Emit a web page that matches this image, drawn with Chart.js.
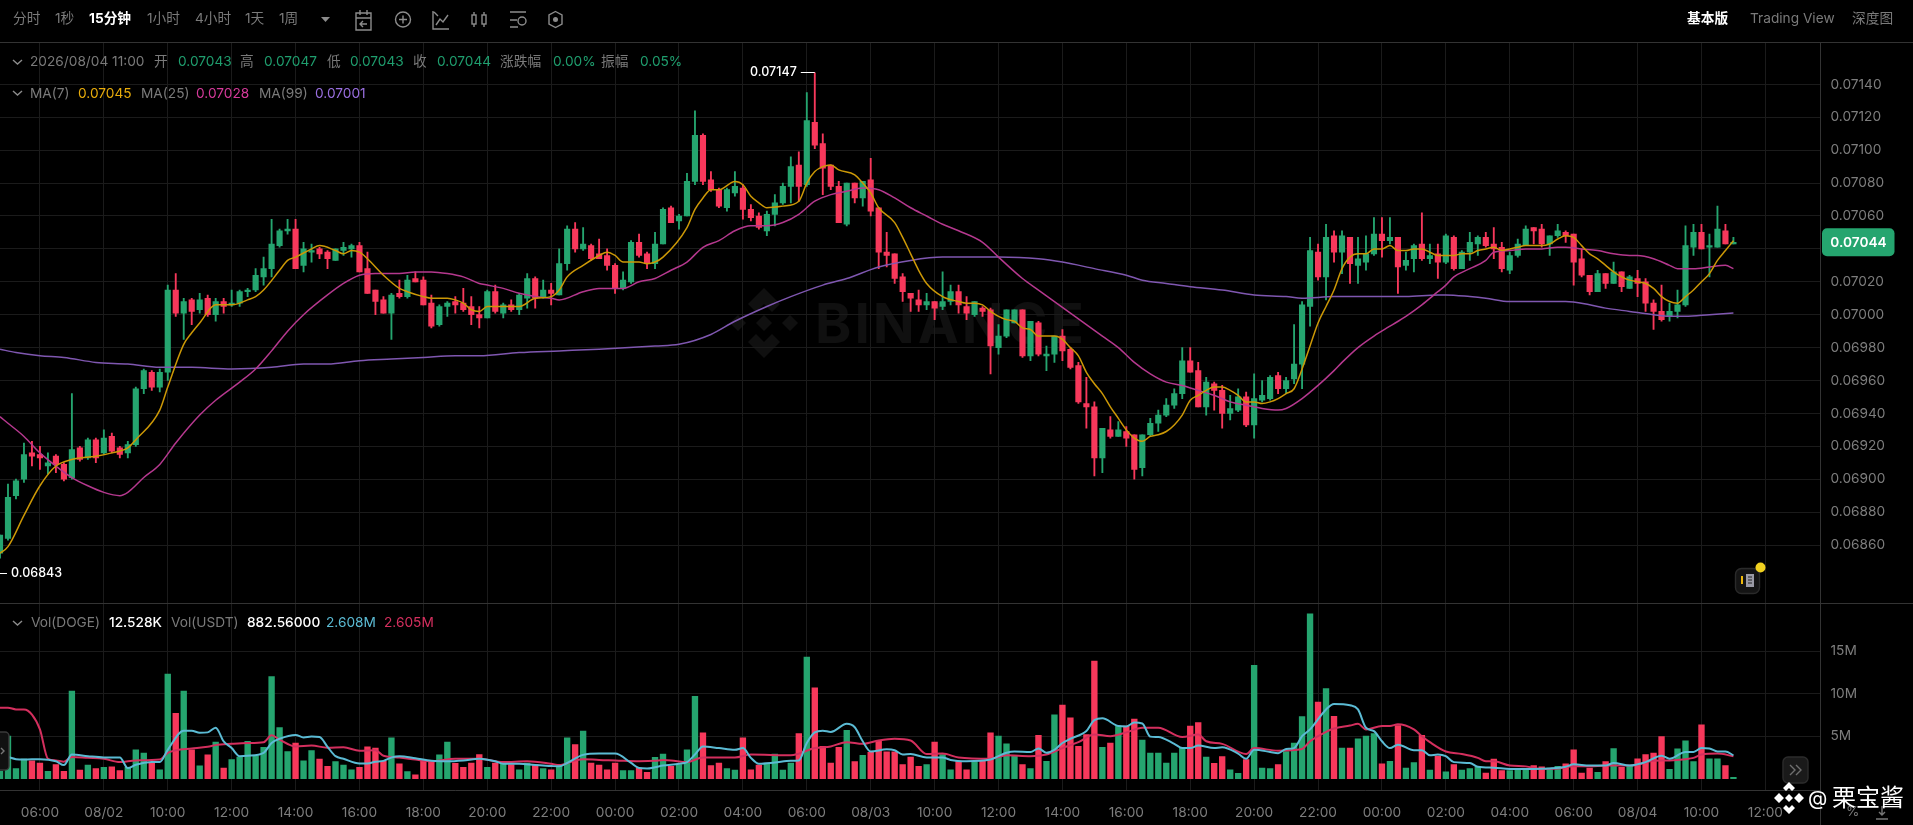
<!DOCTYPE html>
<html lang="zh"><head><meta charset="utf-8"><title>DOGE/USDT 15分钟</title>
<script src="https://cdn.jsdelivr.net/npm/chart.js@4"></script>
<style>
html,body{margin:0;padding:0;background:#000;overflow:hidden}
#wrap{position:relative;width:1913px;height:825px;background:#000;font-family:Inter,"Noto Sans CJK SC",sans-serif;font-size:13.7px;color:#7a7a7a}
#wrap span.t{position:absolute;white-space:nowrap;transform:translateY(-50%);line-height:1}
canvas{position:absolute;left:0;top:0}
.rule{position:absolute;background:#333;z-index:3}
.ic{position:absolute;z-index:3;overflow:visible}
.wm{position:absolute;color:#101010;font-weight:700;font-size:55px;left:815px;top:290px;letter-spacing:3px;line-height:66px}
</style></head><body><div id="wrap">
<svg class="ic" style="left:730px;top:288px;z-index:0" width="68" height="70" viewBox="0 0 68 70"><g fill="#101010"><path d="M34 0 50 16 42 24 34 16 26 24 18 16Z"/><path d="M8 27 16 35 8 43 0 35Z"/><path d="M60 27 68 35 60 43 52 35Z"/><path d="M34 27 42 35 34 43 26 35Z"/><path d="M34 70 18 54 26 46 34 54 42 46 50 54Z"/></g></svg>
<div class="wm">BINANCE</div>
<canvas id="c" width="1913" height="825"></canvas>
<div class="rule" style="left:0;top:42px;width:1913px;height:1px"></div>
<div class="rule" style="left:0;top:603px;width:1913px;height:1px"></div>
<div class="rule" style="left:1820px;top:42px;width:1px;height:783px"></div>
<div id="txt"></div>
<svg class="ic" style="left:0;top:0" width="1913" height="825" fill="none" stroke="#8c8c8c" stroke-width="1.4">
<path d="M321 17h9l-4.500 5z" fill="#8c8c8c" stroke="none"/>
<path d="M356 13h15v17h-15zM356 18h15M360 10v5M367 10v5M367 24h-7m3-3-3 3 3 3"/>
<circle cx="403" cy="19.5" r="7.5"/><path d="M403 15.5v8M399 19.5h8"/>
<path d="M433 11v18h16M436 25l4-6 3 3 5-7M434 12l4 4"/>
<path d="M474 12v15M484 12v15" /><rect x="472" y="15" width="4" height="9" fill="#000"/><rect x="482" y="15" width="4" height="9" fill="#000"/>
<path d="M510 12h16M510 27h8M510 20h7"/><circle cx="522" cy="21" r="4"/>
<path d="M555.5 11.5l6.500 3.500v9l-6.500 3.500-6.500-3.500v-9z"/><circle cx="555.5" cy="19.5" r="1.8" fill="#8c8c8c"/>
<path d="M13 60l4.500 4 4.500-4M13 91l4.500 4 4.500-4M13 621l4.500 4 4.500-4"/>
<rect x="-6" y="732" width="15" height="38" rx="4" stroke="#3a3a3a" fill="#111"/><path d="M1 748l3 3-3 3" stroke="#777"/>
<rect x="1783" y="757" width="25" height="26" rx="5" stroke="#2c2c2c" fill="#1a1a1a"/><path d="M1790 765l5 5-5 5M1796 765l5 5-5 5" stroke="#6f6f6f"/>
<rect x="1735.500" y="568.500" width="24" height="25" rx="6" stroke="#2a2a2a" fill="#141414"/><rect x="1746" y="574" width="8" height="13" fill="#9a9aa5" stroke="none"/><path d="M1748 577h4M1748 580h4M1748 583h4" stroke="#222" stroke-width="1"/><path d="M1742 576v8" stroke="#f0b90b" stroke-width="2"/>
<circle cx="1760.500" cy="567.500" r="5" fill="#f0d020" stroke="none"/>
<g fill="#fff" stroke="none"><path d="M1789 782l6 6-3 3-3-3-3 3-3-3zM1789 814l-6-6 3-3 3 3 3-3 3 3zM1779 793l5 5-5 5-5-5zM1799 793l5 5-5 5-5-5zM1789 794l4 4-4 4-4-4z"/></g>
<path d="M1882 806v9M1879 812l3 3 3-3M1876 819h12" stroke="#777"/>
</svg>
</div>
<script>
const tickLabels=["06:00","08/02","10:00","12:00","14:00","16:00","18:00","20:00","22:00","00:00","02:00","04:00","06:00","08/03","10:00","12:00","14:00","16:00","18:00","20:00","22:00","00:00","02:00","04:00","06:00","08/04","10:00","12:00"];
const priceTicksShown=[6860,7140];
const open=[6855,6864,6890,6900,6916,6915,6908,6914,6909,6901,
6919,6913,6924,6916,6926,6919,6916,6921,6955,6965,
6956,6965,7015,7001,7009,7003,7010,7000,7008,7006,
7007,7014,7015,7023,7028,7042,7051,7052,7030,7038,
7040,7038,7033,7039,7040,7042,7028,7015,7009,7001,
7013,7011,7022,7021,7007,6994,7005,7008,7007,7005,
7000,6998,7014,7001,7006,7003,7010,7022,7011,7015,
7012,7031,7052,7040,7042,7037,7036,7030,7016,7020,
7044,7037,7031,7043,7065,7057,7060,7081,7109,7082,
7076,7065,7074,7077,7064,7060,7051,7061,7068,7078,
7091,7079,7117,7104,7091,7078,7055,7080,7071,7082,
7065,7038,7037,7023,7013,7009,7006,7008,7005,7008,
7014,7005,7000,7004,7003,6980,6987,6995,7003,6975,
6995,6975,6976,6987,6979,6969,6946,6944,6913,6930,
6926,6929,6927,6907,6927,6934,6939,6945,6952,6972,
6966,6944,6958,6954,6940,6942,6950,6933,6948,6949,
6963,6955,6961,6970,7005,7038,7023,7048,7038,7047,
7030,7032,7037,7049,7045,7047,7030,7034,7043,7034,
7037,7032,7047,7028,7038,7043,7047,7043,7041,7027,
7036,7042,7053,7052,7043,7048,7050,7049,7034,7024,
7014,7025,7019,7026,7016,7022,7020,7007,7002,6999,
7002,7006,7041,7050,7041,7041,7051,7043];
const close=[6866,6889,6899,6915,6914,6913,6910,6909,6900,6918,
6912,6924,6913,6925,6917,6915,6921,6955,6966,6956,
6965,7015,7001,7008,7002,7009,7000,7008,7005,7007,
7014,7015,7024,7028,7043,7051,7052,7028,7040,7039,
7037,7034,7040,7041,7042,7026,7013,7008,7001,7012,
7011,7021,7020,7006,6993,7005,7007,7006,7003,7000,
6998,7014,7002,7006,7003,7012,7022,7010,7015,7013,
7031,7052,7040,7043,7034,7034,7030,7016,7021,7044,
7036,7031,7043,7064,7056,7060,7081,7109,7081,7076,
7066,7076,7078,7064,7059,7053,7061,7068,7078,7090,
7078,7118,7103,7089,7078,7056,7080,7071,7081,7063,
7038,7036,7022,7014,7010,7006,7008,7004,7008,7014,
7006,7001,7008,7002,6981,6987,7003,7003,6975,6996,
6976,6976,6987,6978,6968,6947,6944,6913,6931,6926,
6930,6925,6906,6927,6934,6939,6945,6952,6972,6965,
6944,6959,6954,6940,6943,6950,6933,6949,6951,6962,
6955,6960,6970,7006,7039,7023,7047,7038,7048,7031,
7034,7037,7049,7045,7047,7029,7033,7042,7034,7036,
7032,7048,7028,7038,7044,7047,7042,7040,7028,7036,
7043,7052,7051,7043,7048,7051,7048,7032,7024,7014,
7025,7019,7026,7017,7023,7019,7007,7002,6997,7002,
7006,7042,7050,7040,7042,7052,7043,7044];
const high=[6866,6897,6900,6922,6923,6920,6916,6915,6910,6952,
6920,6925,6925,6930,6928,6920,6923,6956,6967,6966,
6967,7018,7025,7010,7010,7013,7012,7010,7010,7015,
7015,7016,7028,7035,7058,7052,7058,7058,7044,7043,
7041,7039,7040,7044,7043,7044,7038,7015,7011,7013,
7021,7024,7026,7023,7012,7006,7008,7011,7016,7011,
7005,7015,7018,7007,7009,7013,7025,7023,7021,7019,
7040,7054,7056,7053,7043,7046,7040,7031,7026,7045,
7049,7038,7050,7065,7066,7061,7086,7124,7110,7087,
7077,7077,7087,7079,7067,7062,7063,7073,7080,7096,
7099,7135,7147,7110,7091,7081,7080,7080,7081,7095,
7065,7050,7037,7025,7013,7015,7013,7008,7026,7018,
7018,7011,7008,7005,7004,6994,7003,7003,7003,6996,
6996,6981,6987,6991,6980,6971,6962,6947,6931,6938,
6935,6932,6927,6927,6937,6942,6949,6955,6980,6980,
6971,6962,6959,6957,6951,6955,6953,6964,6960,6963,
6965,6962,6994,7008,7047,7043,7055,7051,7051,7047,
7047,7048,7059,7059,7059,7047,7038,7043,7062,7043,
7043,7049,7048,7039,7050,7048,7050,7053,7044,7038,
7046,7054,7053,7055,7048,7055,7051,7049,7040,7024,
7027,7025,7032,7026,7024,7027,7022,7009,7018,7007,
7015,7054,7055,7055,7049,7066,7055,7047];
const low=[6852,6863,6888,6898,6908,6906,6903,6904,6899,6900,
6911,6912,6910,6915,6916,6913,6913,6920,6952,6954,
6953,6960,6999,6985,6994,7001,6999,6996,7001,7005,
7005,7011,7014,7018,7023,7041,7049,7028,7026,7032,
7034,7028,7033,7036,7035,7026,7013,7000,7001,6985,
7010,7010,7020,7006,6992,6993,6999,7001,7002,6994,
6992,6998,7001,6998,7002,7000,7004,7004,7010,7006,
7012,7027,7038,7039,7033,7034,7027,7013,7015,7019,
7035,7028,7028,7043,7056,7052,7060,7079,7079,7075,
7065,7063,7072,7058,7057,7052,7048,7054,7067,7068,
7069,7078,7101,7073,7076,7056,7054,7068,7066,7060,
7028,7029,7019,7008,7002,7002,7003,6997,7003,7006,
7001,6997,6999,6999,6964,6976,6986,6995,6974,6972,
6975,6966,6971,6972,6967,6946,6931,6902,6904,6925,
6926,6920,6900,6902,6926,6929,6938,6943,6949,6965,
6944,6939,6942,6931,6936,6941,6932,6925,6947,6948,
6952,6952,6958,6955,6993,7021,7009,7032,7025,7019,
7019,7027,7036,7035,7043,7013,7027,7026,7033,7031,
7022,7031,7027,7028,7033,7036,7041,7034,7026,7025,
7035,7042,7043,7041,7036,7047,7044,7018,7023,7012,
7014,7016,7019,7014,7016,7011,7002,6991,6996,6996,
6998,7005,7036,7040,7023,7041,7043,7043];
const volume=[0.9,5.0,1.2,2.3,2.1,1.85,0.87,1.65,0.87,10.3,
1.0,1.6,1.2,1.35,1.4,0.95,1.35,3.4,3.0,1.85,
1.05,12.3,7.7,10.3,3.4,1.5,2.8,4.3,1.25,2.25,
2.55,4.4,2.65,3.7,12.0,6.0,3.2,4.2,2.1,3.3,
2.3,1.45,2.0,1.6,1.05,1.35,3.75,3.6,2.05,4.8,
1.75,0.83,0.47,2.1,2.1,2.8,4.3,1.8,1.35,1.85,
2.85,1.35,1.85,1.85,1.65,1.05,1.85,1.65,1.2,1.05,
1.45,4.8,4.0,5.6,1.85,1.6,1.05,1.85,0.95,0.95,
1.25,0.75,2.5,2.9,1.45,1.65,3.4,9.7,5.4,1.55,
1.85,1.2,1.0,4.8,1.05,1.6,1.85,2.9,1.0,1.85,
5.3,14.3,10.7,3.8,1.85,3.7,5.7,2.0,2.75,3.1,
4.4,3.15,3.15,1.65,2.55,1.45,1.65,4.3,2.85,1.05,
2.05,1.05,2.0,2.1,5.4,5.0,4.1,2.65,1.65,1.2,
5.1,2.05,7.5,8.65,7.15,3.8,5.2,13.85,3.7,4.2,
6.2,6.2,7.0,4.55,3.0,3.0,1.85,3.0,3.6,6.2,
6.6,2.55,1.8,2.6,1.05,0.63,2.25,13.35,1.25,1.2,
1.65,3.2,4.2,7.3,19.4,9.0,10.6,7.35,3.6,3.6,
4.7,5.0,5.3,1.75,2.05,6.25,1.25,1.9,5.1,1.0,
2.65,0.8,1.65,1.0,1.2,1.4,0.65,2.3,0.95,0.95,
1.15,1.05,1.55,1.4,1.25,1.45,1.75,3.4,0.65,1.25,
0.75,2.0,3.55,1.35,1.55,2.35,2.85,3.0,4.95,1.1,
3.5,4.45,2.0,6.35,2.35,2.35,1.55,0.15];
// [candle number, value] pairs
const ma7=[[0,6855],[1,6859],[3,6878],[5,6896],[7,6908],[9,6912],[12,6914],[14,6916],[16,6919],[17,6924],[20,6942],[21,6956],[23,6982],[24,6989],[25,6995],[27,7006],[29,7006],[31,7009],[32,7011],[33,7015],[35,7027],[36,7033],[37,7035],[39,7040],[40,7042],[42,7039],[43,7037],[44,7039],[45,7038],[46,7034],[48,7024],[50,7016],[51,7014],[53,7011],[54,7010],[56,7010],[57,7009],[58,7007],[59,7003],[60,7002],
[61,7005],[65,7005],[67,7010],[69,7011],[70,7015],[71,7023],[73,7030],[75,7036],[76,7038],[77,7036],[78,7032],[80,7032],[81,7031],[82,7032],[83,7035],[86,7053],[87,7064],[88,7071],[89,7076],[90,7076],[92,7081],[93,7079],[94,7072],[95,7068],[96,7065],[98,7066],[100,7069],[101,7080],[102,7087],[103,7090],[104,7091],[105,7088],[107,7085],[108,7080],[109,7074],[110,7065],[112,7056],[113,7047],[114,7037],[115,7027],[116,7019],[118,7011],[120,7008],
[121,7007],[122,7007],[123,7006],[124,7002],[125,6999],[126,6997],[127,6996],[128,6992],[129,6991],[130,6987],[132,6987],[133,6985],[134,6980],[135,6975],[136,6965],[137,6958],[138,6952],[139,6944],[140,6937],[141,6930],[142,6925],[143,6923],[144,6926],[145,6927],[146,6929],[147,6933],[148,6939],[149,6948],[150,6951],[151,6954],[152,6956],[153,6956],[154,6954],[155,6951],[156,6947],[157,6947],[158,6946],[159,6947],[160,6949],[161,6952],[162,6955],[163,6967],[164,6981],[165,6995],[166,7005],[167,7015],[168,7028],[169,7035],[170,7037],[171,7037],[172,7040],[173,7040],[174,7042],[175,7039],[176,7039],[177,7040],[178,7040],[179,7038],[180,7036],
[181,7036],[182,7036],[183,7037],[184,7037],[185,7039],[186,7040],[187,7041],[188,7039],[189,7040],[190,7041],[191,7042],[192,7042],[193,7042],[194,7043],[195,7046],[196,7048],[197,7047],[198,7042],[199,7037],[200,7034],[201,7030],[202,7026],[203,7023],[204,7021],[205,7020],[206,7019],[207,7016],[208,7011],[209,7008],[210,7007],[211,7011],[212,7015],[213,7020],[214,7025],[215,7033],[216,7039],[217,7045]];
const ma25=[[0,6938],[1,6934],[3,6926],[5,6916],[7,6908],[9,6901],[11,6896],[13,6892],[15,6890],[16,6892],[18,6901],[20,6909],[22,6922],[25,6939],[27,6948],[30,6959],[32,6967],[34,6978],[36,6990],[38,7000],[41,7012],[43,7019],[45,7024],[47,7025],[49,7025],[50,7025],[52,7026],[54,7026],[56,7025],[58,7023],[60,7019],
[61,7018],[63,7016],[65,7013],[67,7011],[69,7010],[70,7009],[73,7014],[75,7016],[77,7016],[78,7016],[80,7020],[82,7022],[84,7027],[86,7032],[88,7041],[90,7045],[92,7051],[94,7054],[96,7054],[98,7056],[100,7061],[102,7069],[104,7073],[106,7075],[108,7077],[110,7076],[112,7071],[114,7065],[116,7060],[118,7055],[120,7051],
[123,7044],[125,7035],[128,7022],[130,7015],[132,7008],[136,6994],[138,6987],[140,6980],[142,6971],[144,6964],[146,6959],[148,6957],[150,6954],[152,6951],[154,6947],[156,6945],[158,6943],[160,6942],[161,6943],[163,6949],[165,6957],[167,6966],[168,6971],[170,6980],[172,6987],[174,6993],[176,6999],[178,7006],[180,7014],
[181,7018],[182,7023],[184,7028],[186,7033],[187,7038],[189,7039],[191,7040],[193,7040],[195,7041],[196,7041],[198,7040],[200,7039],[202,7037],[204,7036],[205,7036],[207,7034],[209,7030],[210,7028],[212,7028],[214,7029],[216,7030],[217,7028]];
const ma99=[[0,6979],[2,6977],[5,6975],[8,6974],[12,6971],[16,6970],[20,6968],[24,6968],[29,6967],[34,6968],[38,6970],[41,6970],[45,6972],[49,6973],[53,6974],[57,6975],[60,6975],
[65,6977],[70,6978],[75,6979],[82,6981],[85,6982],[89,6988],[92,6996],[96,7005],[99,7011],[103,7018],[106,7022],[110,7029],[114,7033],[118,7035],[120,7035],
[125,7035],[130,7034],[133,7032],[137,7028],[141,7024],[143,7021],[146,7019],[149,7017],[153,7015],[157,7012],[161,7011],[163,7010],[167,7011],[172,7011],[176,7011],[180,7012],
[181,7012],[184,7011],[186,7010],[189,7008],[192,7008],[196,7008],[199,7006],[201,7004],[204,7002],[207,7000],[209,6999],[211,6999],[214,7000],[217,7001]];
const volMaFast=[[1,2.55],[2,2.3],[3,2.25],[5,2.3],[7,2.05],[8,1.6],[9,2.85],[11,2.65],[13,2.5],[15,2.5],[16,1.25],[17,1.65],[19,1.95],[20,1.95],[21,3.4],[23,5.65],[24,5.65],[25,5.4],[26,5.45],[27,6.0],[28,4.4],[29,3.6],[30,2.65],[31,2.7],[33,3.05],[34,4.2],[35,4.7],[37,5.15],[38,4.85],[39,4.95],[40,4.9],[41,3.75],[42,2.65],[43,2.35],[45,1.8],[46,1.8],[47,2.0],[48,2.1],[49,2.5],[50,2.65],[52,2.4],[54,2.1],[56,2.05],[58,2.15],[60,2.35],[62,2.05],[63,1.75],[65,1.75],[67,1.6],[69,1.5],[70,1.45],[71,1.85],[73,2.8],[75,2.95],[77,2.95],[79,1.85],[80,1.25],
[81,1.2],[82,1.35],[83,1.55],[85,1.75],[86,1.95],[87,2.85],[88,3.8],[90,3.6],[92,3.4],[93,3.6],[94,2.45],[95,1.75],[97,1.9],[99,2.1],[100,2.15],[101,4.2],[102,5.45],[103,5.65],[104,5.5],[106,6.45],[107,6.05],[108,4.4],[109,3.2],[111,3.45],[112,3.35],[113,2.85],[114,2.9],[116,2.5],[118,2.5],[119,2.2],[121,2.05],[124,2.25],[125,2.65],[126,3.05],[127,3.2],[129,3.15],[130,3.55],[131,3.05],[132,3.4],[133,4.2],[134,4.7],[136,5.6],[137,6.9],[138,7.1],[140,6.2],[141,6.15],[142,6.6],[143,6.5],[144,4.95],[145,4.9],[147,4.1],[148,3.6],[149,3.6],[150,3.9],[152,3.6],[153,3.7],[155,2.95],[156,2.35],[157,3.4],[159,3.15],[160,3.0],
[161,3.5],[162,3.6],[163,5.0],[164,5.8],[166,8.15],[167,8.8],[169,8.65],[170,8.15],[171,6.0],[172,5.6],[173,4.4],[174,3.6],[175,4.0],[177,3.35],[178,3.35],[179,2.75],[180,2.85],[181,2.65],[182,1.95],[184,1.85],[185,1.4],[187,1.3],[189,1.15],[192,1.15],[194,1.2],[196,1.4],[197,1.7],[199,1.55],[201,1.55],[202,1.85],[204,1.55],[206,1.95],[208,2.7],[209,2.35],[211,3.15],[212,3.15],[213,3.6],[214,3.55],[215,3.2],[216,3.2],[217,2.75]];
const volMaSlow=[[0,8.35],[1,8.35],[2,8.15],[3,8.15],[4,7.55],[5,5.8],[6,2.35],[7,2.15],[8,2.0],[9,2.55],[11,2.45],[13,2.35],[15,1.95],[17,2.15],[20,2.25],[21,3.05],[22,3.35],[24,3.55],[26,3.75],[27,3.95],[29,4.1],[31,4.2],[33,4.3],[34,5.1],[35,4.6],[37,3.8],[39,3.9],[41,3.65],[43,3.7],[45,3.3],[47,3.35],[48,2.7],[50,2.5],[52,2.25],[54,2.05],[57,2.35],[60,2.35],[63,1.95],[66,2.05],[69,1.75],[70,1.6],[72,2.15],[73,2.3],[75,2.2],[77,2.15],[80,2.05],
[82,2.1],[83,2.2],[84,2.15],[86,1.95],[88,2.5],[92,2.5],[94,2.85],[99,2.75],[100,2.95],[102,3.6],[104,3.8],[106,4.3],[108,4.1],[110,4.5],[112,4.7],[114,4.5],[116,2.9],[118,2.95],[120,2.5],[124,2.35],[126,2.75],[129,2.65],[131,2.85],[133,3.6],[135,4.3],[137,5.2],[139,5.0],[141,5.45],[143,6.0],[145,6.0],[148,4.9],[150,5.2],[151,4.4],[153,4.1],[156,2.9],[157,3.6],[160,3.3],
[163,3.5],[164,4.4],[166,5.5],[167,5.9],[169,6.25],[170,6.45],[171,5.8],[173,6.2],[174,6.2],[175,6.4],[177,5.8],[178,5.0],[179,4.3],[181,3.2],[183,2.9],[185,2.45],[186,2.05],[187,2.05],[189,1.55],[191,1.45],[193,1.15],[195,1.2],[197,1.45],[199,1.45],[201,1.55],[203,1.55],[205,1.65],[207,2.1],[209,2.15],[211,2.3],[212,2.45],[213,2.85],[215,2.95],[217,2.65]];

const GREEN='#25a56f',RED='#f7385b',PRICE_UNIT=1e5;
const up=open.map((o,i)=>close[i]>=o);
const barColors=up.map(u=>u?GREEN:RED);
const price=v=>v/PRICE_UNIT;
const bodies=open.map((o,i)=>({x:i,y:[price(o),price(close[i])]}));
const wicks=low.map((l,i)=>({x:i,y:[price(l),price(high[i])]}));
const volBars=volume.map((v,i)=>({x:i,y:v}));
const priceLine=(pts)=>pts.map(([x,v])=>({x,y:price(v)}));
const volLine=(pts)=>pts.map(([x,y])=>({x,y}));
const line=(label,data,color,axis,w)=>({type:'line',label,data,yAxisID:axis,borderColor:color,borderWidth:w,pointRadius:0,cubicInterpolationMode:'monotone',order:0});
const GRID='#1b1b1b',AXIS='#7d7d7d',FONT='Inter,"Noto Sans CJK SC",sans-serif',FS=13.7;

const marks={id:'marks',afterDatasetsDraw(ch){
  const {ctx,scales:{x,y},chartArea}=ch;
  ctx.save();
  ctx.font='500 12.5px '+FONT;ctx.textBaseline='middle';ctx.fillStyle='#fff';ctx.strokeStyle='#fff';ctx.lineWidth=1;
  const hi=Math.max(...high),hiI=high.indexOf(hi),hy=Math.round(y.getPixelForValue(price(hi)))-.5,hx=x.getPixelForValue(hiI);
  ctx.textAlign='right';ctx.fillText(price(hi).toFixed(5),hx-18,hy);
  ctx.beginPath();ctx.moveTo(hx-14,hy);ctx.lineTo(hx,hy);ctx.stroke();
  const ly=Math.round(y.getPixelForValue(0.06843))+.5;
  ctx.textAlign='left';ctx.fillText('0.06843',11,ly);
  ctx.beginPath();ctx.moveTo(0,ly);ctx.lineTo(7,ly);ctx.stroke();
  const last=close[close.length-1],py=y.getPixelForValue(price(last));
  ctx.fillStyle=GREEN;ctx.beginPath();ctx.roundRect(chartArea.right+1.5,py-14,72.5,28,5);ctx.fill();
  ctx.fillStyle='#fff';ctx.font='600 '+FS+'px '+FONT;ctx.textAlign='center';ctx.fillText(price(last).toFixed(5),chartArea.right+38,py+.5);
  ctx.restore();
}};

new Chart(document.getElementById('c'),{type:'bar',plugins:[marks],data:{datasets:[
  line('MA(7)',priceLine(ma7),'#cc9806','y',1.5),
  line('MA(25)',priceLine(ma25),'#b5388e','y',1.5),
  line('MA(99)',priceLine(ma99),'#7f57b0','y',1.5),
  line('Vol MA fast',volLine(volMaFast),'#5bbbd4','yVol',2),
  line('Vol MA slow',volLine(volMaSlow),'#d42f5e','yVol',2),
  {label:'K body',data:bodies,backgroundColor:barColors,barThickness:5.5,grouped:false,minBarLength:1.5,order:1,yAxisID:'y'},
  {label:'K wick',data:wicks,backgroundColor:barColors,barThickness:1.2,grouped:false,order:2,yAxisID:'y'},
  {label:'Vol',data:volBars,backgroundColor:barColors,barThickness:5.7,grouped:false,order:1,yAxisID:'yVol'}
]},options:{responsive:false,animation:false,devicePixelRatio:1,
  layout:{padding:{top:43,left:0,right:0,bottom:0}},
  plugins:{legend:{display:false},tooltip:{enabled:false}},
  scales:{
    x:{type:'linear',min:0,max:227.9,offset:false,
      afterBuildTicks(s){s.ticks=tickLabels.map((_,k)=>({value:5+8*k}));},
      afterFit(s){s.height=34.5;},
      grid:{offset:false,color:GRID,lineWidth:1,drawTicks:false},
      border:{color:'#333'},
      ticks:{autoSkip:false,maxRotation:0,padding:14,color:AXIS,font:{family:FONT,size:FS},callback:(v,k)=>tickLabels[k]}},
    y:{type:'linear',position:'right',stack:'pane',stackWeight:560.5,min:0.07-288.8*6.079e-6,max:0.07+271.7*6.079e-6,
      afterFit(s){s.width=92.5;},
      grid:{color:GRID,drawTicks:false},border:{color:'#333'},
      ticks:{stepSize:0.0002,padding:10,color:AXIS,font:{family:FONT,size:FS},autoSkip:false,
        callback(v){const u=Math.round(v*PRICE_UNIT);return (u<priceTicksShown[0]||u>priceTicksShown[1])?null:v.toFixed(5);}}},
    yVol:{type:'linear',position:'right',stack:'pane',stackWeight:187,min:-1.388,max:20.61,
      afterFit(s){s.width=92.5;},
      grid:{color:GRID,drawTicks:false},border:{color:'#333'},
      ticks:{stepSize:5,padding:10,color:AXIS,font:{family:FONT,size:FS},autoSkip:false,
        callback(v){return (v>=5&&v<=15)?v+'M':null;}}}
  }}});

// Page text around the plot
const G='#7a7a7a',W='#fff',UP='#1f9e6e';
const texts=[
 ['分时',13,19,G],['1秒',55,19,G],['15分钟',89,19,W,700],['1小时',147,19,G],['4小时',195,19,G],['1天',245,19,G],['1周',279,19,G],
 ['基本版',1687,19,W,600],['Trading View',1750,19,G],['深度图',1852,19,G],
 ['2026/08/04 11:00',30,62,G],['开',154,62,G],['0.07043',178,62,UP],['高',240,62,G],['0.07047',264,62,UP],['低',327,62,G],['0.07043',350,62,UP],['收',413,62,G],['0.07044',437,62,UP],['涨跌幅',500,62,G],['0.00%',553,62,UP],['振幅',601,62,G],['0.05%',640,62,UP],
 ['MA(7)',30,94,G],['0.07045',78,94,'#e8ac0b'],['MA(25)',141,94,G],['0.07028',196,94,'#d63a9b'],['MA(99)',259,94,G],['0.07001',315,94,'#9a6fe0'],
 ['Vol(DOGE)',31,623,G],['12.528K',109,623,W,500],['Vol(USDT)',171,623,G],['882.56000',247,623,W,500],['2.608M',326,623,'#5bbbd4'],['2.605M',384,623,'#d42f5e'],
 ['@',1808,798,'#fff',400,20],['栗宝酱',1832,798,'#fff',400,24],['%',1846,812,'#777']
];
const box=document.getElementById('txt');
texts.forEach(([s,l,t,c,w,fs])=>{const e=document.createElement('span');e.className='t';e.textContent=s;
 e.style.cssText=`left:${l}px;top:${t}px;color:${c};z-index:4;font-weight:${w||400};font-size:${fs||13.7}px`;box.appendChild(e);});
</script></body></html>
